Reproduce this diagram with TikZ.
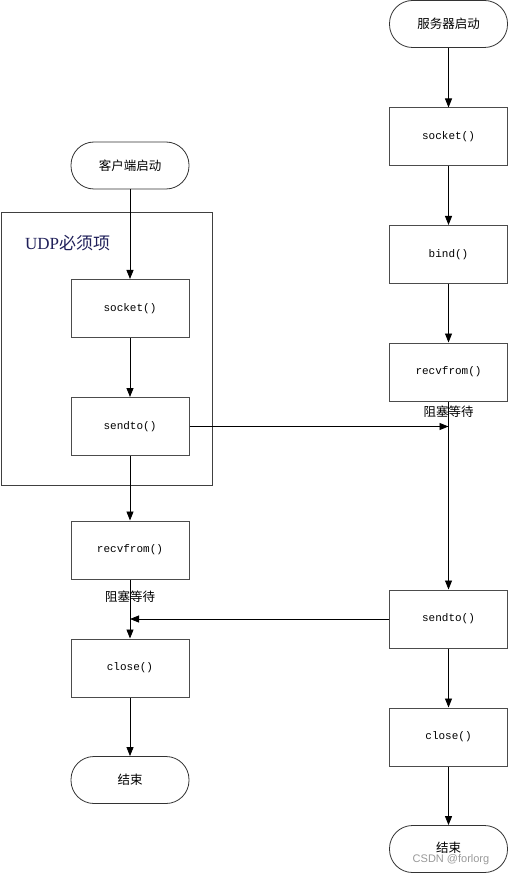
\documentclass[tikz,border=0pt]{standalone}
\usepackage{fontspec}
\newfontfamily\cjk{Noto Sans CJK SC}
\newfontfamily\markfont{Liberation Sans}
\setmonofont{Liberation Mono}
\usetikzlibrary{arrows.meta}

\begin{document}
\begin{tikzpicture}[x=1pt, y=-1pt,
	box/.style = {draw=black!70, line width=1pt, minimum width=118pt, minimum height=58pt,
	              inner sep=0pt, font=\ttfamily\fontsize{11}{13}\selectfont},
	term/.style = {draw=black!80, line width=0.8pt, minimum width=118pt, minimum height=47pt,
	               rounded corners=23pt, inner sep=0pt, font=\cjk\fontsize{12.5}{14}\selectfont},
	wait/.style = {font=\cjk\fontsize{12.5}{14}\selectfont, inner sep=1pt},
	flow/.style = {line width=0.8pt, -{Triangle[length=9pt, width=7pt]}},
	frame/.style = {draw=black!75, line width=1pt}
	]
	\useasboundingbox (0,0) rectangle (508,874);
%
	% client side
	\node[term] (c-start) at (130,165.5) {客户端启动};
	\draw[frame] (1,213) rectangle (212,485);
	\node[anchor=west, inner sep=0pt, text={rgb,255:red,32;green,32;blue,90},
	      font=\fontsize{17}{19}\selectfont] (c-udp) at (25,243)
	      {\setmainfont{Liberation Serif}UDP\cjk 必须项};
	\node[box] (c-socket) at (130,308.5) {socket()};
	\node[box] (c-sendto) at (130,426.5) {sendto()};
	\node[box] (c-recvfrom) at (130,550) {recvfrom()};
	\node[box] (c-close) at (130,668) {close()};
	\node[term] (c-end) at (130,780) {结束};
	\node[wait] (c-wait) at (130,597) {阻塞等待};
%
	% server side
	\node[term] (s-start) at (448.5,24) {服务器启动};
	\node[box] (s-socket) at (448.5,137) {socket()};
	\node[box] (s-bind) at (448.5,254.5) {bind()};
	\node[box] (s-recvfrom) at (448.5,372) {recvfrom()};
	\node[box] (s-sendto) at (448.5,619) {sendto()};
	\node[box] (s-close) at (448.5,737) {close()};
	\node[term] (s-end) at (448.5,849) {\raisebox{4pt}{结束}};
	\node[wait] (s-wait) at (448.5,412) {阻塞等待};
%
	\draw[flow] (c-start) -- (c-socket);
	\draw[flow] (c-socket) -- (c-sendto);
	\draw[flow] (c-sendto) -- (c-recvfrom);
	\draw[flow] (c-recvfrom) -- (c-close);
	\draw[flow] (c-close) -- (c-end);
%
	\draw[flow] (s-start) -- (s-socket);
	\draw[flow] (s-socket) -- (s-bind);
	\draw[flow] (s-bind) -- (s-recvfrom);
	\draw[flow] (s-recvfrom) -- (s-sendto);
	\draw[flow] (s-sendto) -- (s-close);
	\draw[flow] (s-close) -- (s-end);
%
	\draw[flow] (c-sendto.east) -- (c-sendto.east -| s-recvfrom.south);
	\draw[flow] (s-sendto.west) -- (s-sendto.west -| c-recvfrom.south);
%
	\node[text=black!40, inner sep=0pt, font=\markfont\fontsize{11}{13}\selectfont] (mark) at (451,860)
	     {CSDN @forlorg};
\end{tikzpicture}
\end{document}
